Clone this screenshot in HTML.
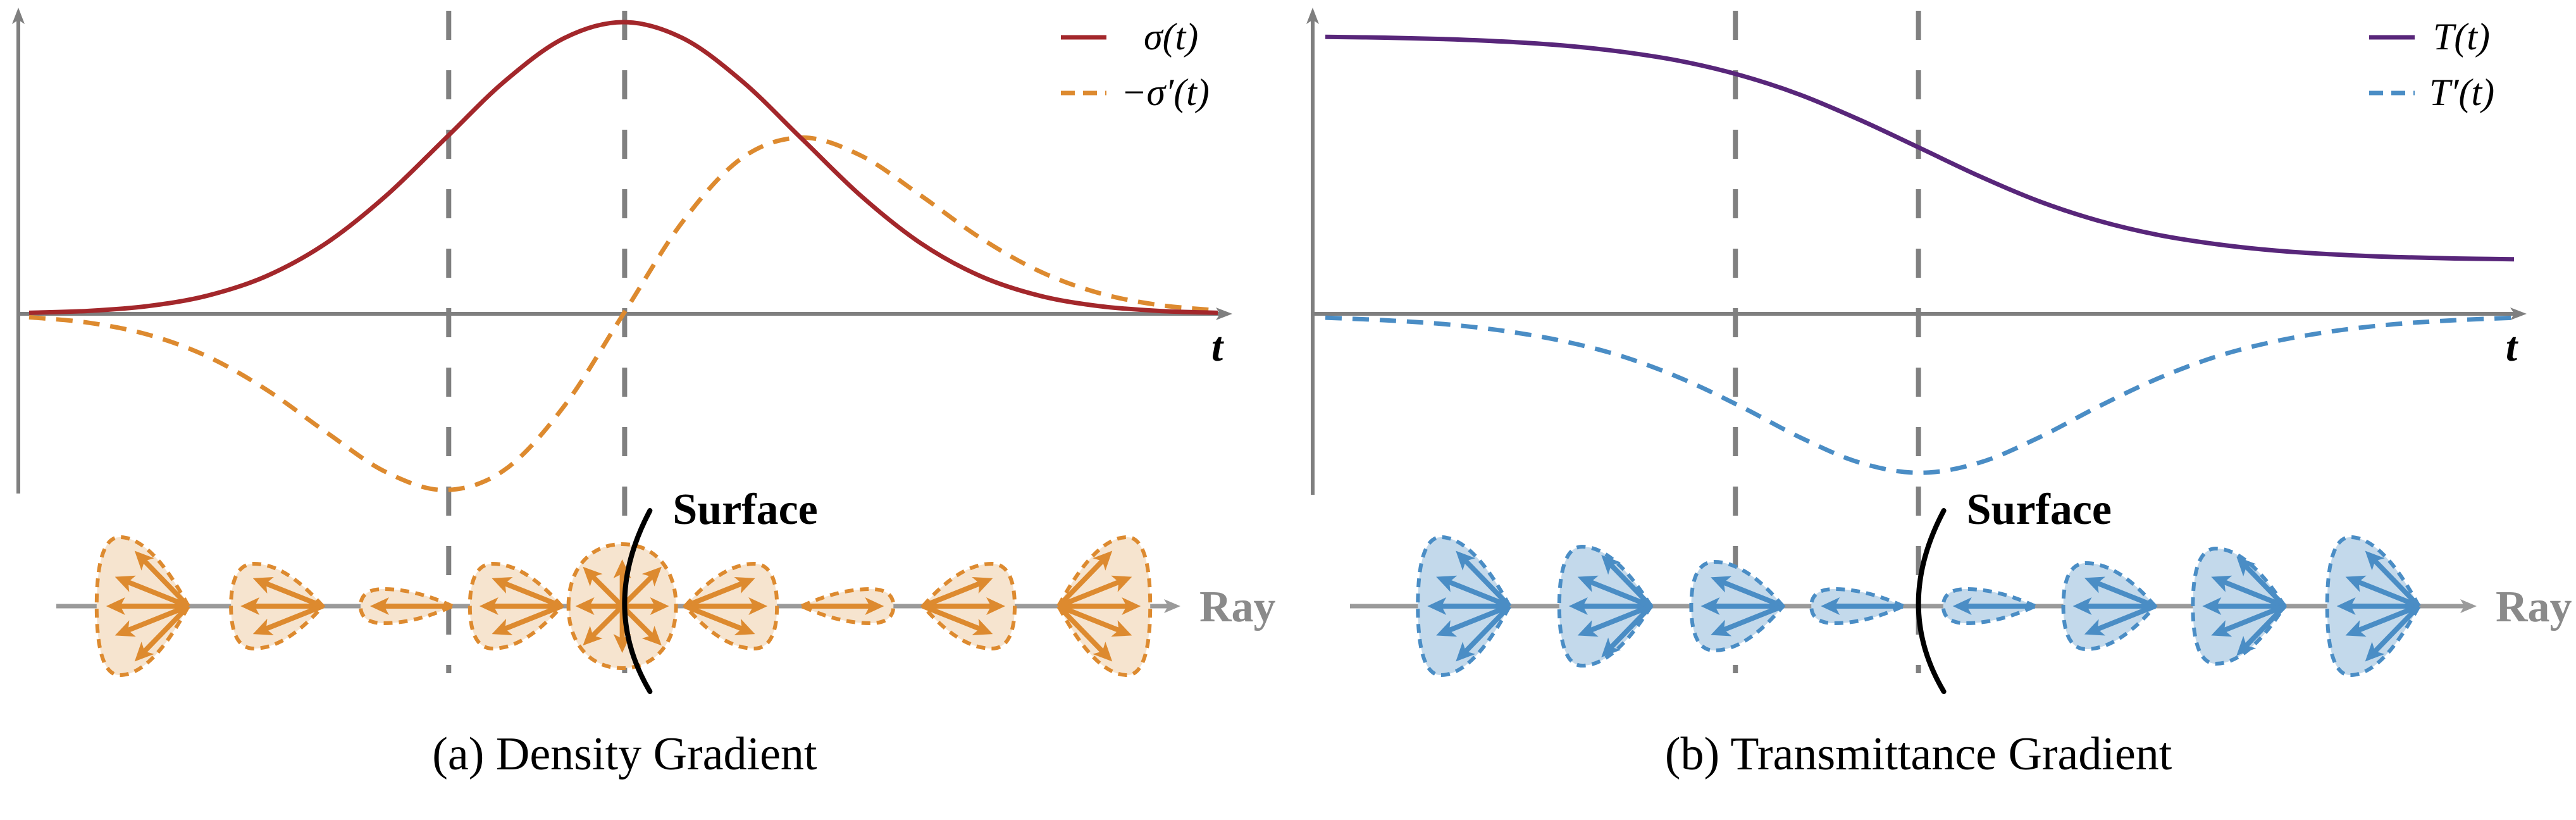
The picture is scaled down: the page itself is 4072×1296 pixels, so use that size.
<!DOCTYPE html>
<html><head><meta charset="utf-8"><style>
html,body{margin:0;padding:0;background:#fff;}
svg{display:block;}
svg text{font-family:"Liberation Serif","Times New Roman",Times,"DejaVu Serif","Noto Serif CJK SC",serif !important;}
</style></head><body>
<svg id="fig" width="4072" height="1296" viewBox="0 0 4072 1296" xmlns="http://www.w3.org/2000/svg">
<g id="left"></g>
<g id="right"></g>
</svg>
<script>
const tGrid = [0,0.05,0.1,0.15,0.2,0.25,0.3,0.35,0.4,0.45,0.5,0.55,0.6,0.65,0.7,0.75,0.8,0.85,0.9,0.95,1];
const sigmaVals = [0.0035,0.0101,0.0266,0.0622,0.1299,0.2424,0.4037,0.6004,0.797,0.9449,1,0.9449,0.797,0.6004,0.4037,0.2424,0.1299,0.0622,0.0266,0.0101,0.0035];
const negDSigmaVals = [-0.0117,-0.0305,-0.0713,-0.146,-0.261,-0.406,-0.542,-0.604,-0.535,-0.317,0,0.317,0.535,0.604,0.542,0.406,0.261,0.146,0.0713,0.0305,0.0117];
const TVals = [0.995,0.992,0.987,0.978,0.964,0.941,0.907,0.856,0.786,0.696,0.596,0.495,0.405,0.335,0.284,0.25,0.227,0.213,0.204,0.199,0.196];
const dTVals = [-0.014,-0.023,-0.037,-0.061,-0.098,-0.153,-0.233,-0.334,-0.445,-0.535,-0.571,-0.535,-0.445,-0.334,-0.233,-0.153,-0.098,-0.061,-0.037,-0.023,-0.014];
const markersLeft = [0.353,0.501];
const markersRight = [0.345,0.499];
const glyphTLeft = [0.134,0.247,0.356,0.448,0.499,0.552,0.65,0.752,0.866];
const glyphMagLeft = [109,67,27,67,98,67,27,67,109];
const glyphDirLeft = [-1,-1,-1,-1,0,1,1,1,1];
const glyphCountLeft = [5,3,1,3,8,3,1,3,5];
const glyphTRight = [0.155,0.274,0.385,0.486,0.597,0.698,0.807,0.92];
const glyphMagRight = [109,94,70,27,27,68,91,109];
const glyphCountRight = [5,5,3,1,1,3,5,5];

const SERIF='Liberation Serif, Times New Roman, Times, DejaVu Serif, Noto Serif CJK SC, serif';
const NS='http://www.w3.org/2000/svg';
function mk(parent,tag,attrs){const e=document.createElementNS(NS,tag);for(const k in attrs)e.setAttribute(k,attrs[k]);if(tag==='text'){e.setAttribute('font-family',SERIF);}parent.appendChild(e);return e;}
function smooth(pts){let d='M'+pts[0][0]+','+pts[0][1];for(let i=0;i<pts.length-1;i++){const p0=pts[Math.max(0,i-1)],p1=pts[i],p2=pts[i+1],p3=pts[Math.min(pts.length-1,i+2)];d+=' C'+(p1[0]+(p2[0]-p0[0])/6)+','+(p1[1]+(p2[1]-p0[1])/6)+' '+(p2[0]-(p3[0]-p1[0])/6)+','+(p2[1]-(p3[1]-p1[1])/6)+' '+p2[0]+','+p2[1];}return d;}
function arrowHead(g,x,y,ang,color,len,hw){const c=Math.cos(ang),s=Math.sin(ang);const bx=x-c*len,by=y-s*len;return mk(g,'polygon',{points:x+','+y+' '+(bx-s*hw)+','+(by+c*hw)+' '+(bx+c*len*0.25)+','+(by+s*len*0.25)+' '+(bx+s*hw)+','+(by-c*hw),fill:color});}

function panel(g,o){
  const xS=t=>o.x0+t*o.w, yS=v=>o.base-v*o.unit;
  o.markers.forEach(t=>{const l=mk(g,'line',{x1:xS(t),y1:17,x2:xS(t),y2:1064,stroke:'#808080','stroke-width':8,'stroke-dasharray':'46 48'});
    
    });
  const ya=mk(g,'line',{x1:o.ax,y1:o.axBottom,x2:o.ax,y2:30,stroke:'#7f7f7f','stroke-width':6});
  
  
  arrowHead(g,o.ax,12,-Math.PI/2,'#7f7f7f',26,10);
  const xa=mk(g,'line',{x1:o.ax,y1:o.base,x2:o.axEnd-12,y2:o.base,stroke:'#7f7f7f','stroke-width':6});
  
  
  arrowHead(g,o.axEnd+4,o.base,0,'#7f7f7f',26,10);
  const tl=mk(g,'text',{x:o.axEnd-20,y:570,'font-size':66,'font-weight':'bold','font-style':'italic','text-anchor':'middle'});tl.textContent='t';
  
  
  const p2=mk(g,'path',{d:smooth(tGrid.map((t,i)=>[xS(t),yS(o.s2[i])])),fill:'none',stroke:o.c2,'stroke-width':7,'stroke-dasharray':'26 17'});
  
  
  const p1=mk(g,'path',{d:smooth(tGrid.map((t,i)=>[xS(t),yS(o.s1[i])])),fill:'none',stroke:o.c1,'stroke-width':7});
  
  
  const lg=mk(g,'g',{});
  
  
  const e1=mk(lg,'g',{});
  
  
  mk(e1,'line',{x1:o.lx,y1:59,x2:o.lx+72,y2:59,stroke:o.c1,'stroke-width':7});
  const t1=mk(e1,'text',{x:o.tx1,y:78,'font-size':60,'font-style':'italic'});t1.textContent=o.lab1;
  const e2=mk(lg,'g',{});
  
  
  mk(e2,'line',{x1:o.lx,y1:147,x2:o.lx+72,y2:147,stroke:o.c2,'stroke-width':7,'stroke-dasharray':'22 13'});
  const t2=mk(e2,'text',{x:o.tx2,y:166,'font-size':60,'font-style':'italic'});t2.textContent=o.lab2;
  const ray=mk(g,'line',{x1:o.r0,y1:958,x2:o.r1-12,y2:958,stroke:'#9a9a9a','stroke-width':7});
  
  
  arrowHead(g,o.r1+6,958,0,'#9a9a9a',26,11);
  const rl=mk(g,'text',{x:o.r1+36,y:982,'font-size':70,'font-weight':'bold',fill:'#8a8a8a'});rl.textContent='Ray';
  
  
  o.gT.forEach((t,i)=>{
    const h=o.gM[i],dir=o.gD[i],n=o.gN[i],x=xS(t),y=958,W=145;
    const gg=mk(g,'g',{});
    
    
    let d;
    if(dir===0){d='M'+(x-85)+','+y+' C'+(x-85)+','+(y-60)+' '+(x-50)+','+(y-h)+' '+x+','+(y-h)+' C'+(x+50)+','+(y-h)+' '+(x+85)+','+(y-60)+' '+(x+85)+','+y+' C'+(x+85)+','+(y+60)+' '+(x+50)+','+(y+h)+' '+x+','+(y+h)+' C'+(x-50)+','+(y+h)+' '+(x-85)+','+(y+60)+' '+(x-85)+','+y+'Z';}
    else{const s=-dir;
      const X=k=>x-s*k*W;
      d='M'+x+','+y+' C'+X(0.3)+','+(y-0.75*h)+' '+X(0.55)+','+(y-h)+' '+X(0.75)+','+(y-h)+' C'+X(0.95)+','+(y-h)+' '+X(1)+','+(y-0.5*h)+' '+X(1)+','+y+' C'+X(1)+','+(y+0.5*h)+' '+X(0.95)+','+(y+h)+' '+X(0.75)+','+(y+h)+' C'+X(0.55)+','+(y+h)+' '+X(0.3)+','+(y+0.75*h)+' '+x+','+y+'Z';}
    mk(gg,'path',{d:d,fill:o.fill,stroke:o.c2,'stroke-width':6,'stroke-dasharray':'14 10'});
    let angs=[],lens=[];
    if(dir===0){for(let k=0;k<8;k++){angs.push(k*Math.PI/4);lens.push(k%2?88:74);}}
    else{const base=dir<0?Math.PI:0;const sets={1:[0],3:[0,0.38,-0.38],5:[0,0.38,-0.38,0.8,-0.8]};
      sets[n].forEach(a=>{angs.push(base+(dir<0?a:-a));lens.push(a===0?130:(Math.abs(a)<0.5?Math.min(125,h*1.4+25):Math.min(122,h*1.2)));});}
    angs.forEach((a,k)=>{const L=lens[k],ex=x+Math.cos(a)*L,ey=y+Math.sin(a)*L;
      mk(gg,'line',{x1:x,y1:y,x2:ex-Math.cos(a)*20,y2:ey-Math.sin(a)*20,stroke:o.c2,'stroke-width':8});
      arrowHead(gg,ex,ey,a,o.c2,30,14);});
  });
  const sx=xS(o.markers[1]);
  const sf=mk(g,'path',{d:'M'+(sx+40)+',807 Q'+(sx-40)+',958 '+(sx+40)+',1093',fill:'none',stroke:'#000','stroke-width':8,'stroke-linecap':'round'});
  
  
  const st=mk(g,'text',{x:sx+76,y:828,'font-size':70,'font-weight':'bold'});st.textContent='Surface';
  
  
  const cap=mk(g,'text',{x:sx,y:1216,'font-size':74,'text-anchor':'middle'});cap.textContent=o.caption;
  
  
}
panel(document.getElementById('left'),{x0:46,w:1879,base:496,unit:461,ax:29,axBottom:780,axEnd:1944,markers:markersLeft,
  s1:sigmaVals,s2:negDSigmaVals,c1:'#a3272b',c2:'#dd8a2f',fill:'#f6e4cf',n1:'sigma',n2:'neg-dsigma',
  lx:1677,tx1:1808,tx2:1772,lab1:'σ(t)',lab2:'−σ′(t)',r0:89,r1:1860,
  gT:glyphTLeft,gM:glyphMagLeft,gD:glyphDirLeft,gN:glyphCountLeft,caption:'(a) Density Gradient'});
panel(document.getElementById('right'),{x0:2095,w:1879,base:496,unit:440,ax:2075,axBottom:782,axEnd:3990,markers:markersRight,
  s1:TVals,s2:dTVals,c1:'#58267a',c2:'#4a8dc5',fill:'#c3d9eb',n1:'transmittance',n2:'d-transmittance',
  lx:3745,tx1:3846,tx2:3840,lab1:'T(t)',lab2:'T′(t)',r0:2134,r1:3909,
  gT:glyphTRight,gM:glyphMagRight,gD:glyphTRight.map(()=>-1),gN:glyphCountRight,caption:'(b) Transmittance Gradient'});
</script>
</body></html>
